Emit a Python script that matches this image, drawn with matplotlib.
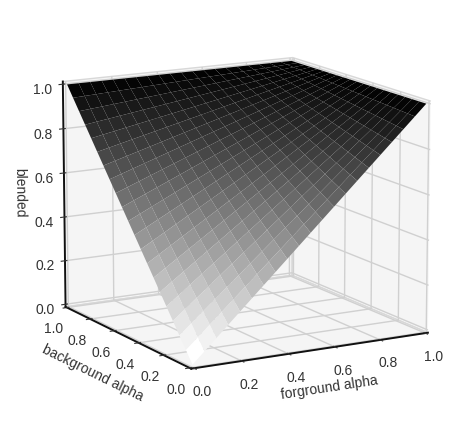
import matplotlib
matplotlib.use('Agg')
import matplotlib.pyplot as plt
import numpy as np

foreground = [0.0, 0.05, 0.1, 0.15, 0.2, 0.25, 0.3, 0.35, 0.4, 0.45, 0.5,
              0.55, 0.6, 0.65, 0.7, 0.75, 0.8, 0.85, 0.9, 0.95, 1.0]
background = [0.0, 0.05, 0.1, 0.15, 0.2, 0.25, 0.3, 0.35, 0.4, 0.45, 0.5,
              0.55, 0.6, 0.65, 0.7, 0.75, 0.8, 0.85, 0.9, 0.95, 1.0]
# one row per background alpha
blended = [
    [0, .05, .1, .15, .2, .25, .3, .35, .4, .45, .5, .55, .6, .65, .7, .75, .8, .85, .9, .95, 1],
    [.05, .0975, .145, .1925, .24, .2875, .335, .3825, .43, .4775, .525, .5725, .62, .6675, .715, .7625, .81, .8575, .905, .9525, 1],
    [.1, .145, .19, .235, .28, .325, .37, .415, .46, .505, .55, .595, .64, .685, .73, .775, .82, .865, .91, .955, 1],
    [.15, .1925, .235, .2775, .32, .3625, .405, .4475, .49, .5325, .575, .6175, .66, .7025, .745, .7875, .83, .8725, .915, .9575, 1],
    [.2, .24, .28, .32, .36, .4, .44, .48, .52, .56, .6, .64, .68, .72, .76, .8, .84, .88, .92, .96, 1],
    [.25, .2875, .325, .3625, .4, .4375, .475, .5125, .55, .5875, .625, .6625, .7, .7375, .775, .8125, .85, .8875, .925, .9625, 1],
    [.3, .335, .37, .405, .44, .475, .51, .545, .58, .615, .65, .685, .72, .755, .79, .825, .86, .895, .93, .965, 1],
    [.35, .3825, .415, .4475, .48, .5125, .545, .5775, .61, .6425, .675, .7075, .74, .7725, .805, .8375, .87, .9025, .935, .9675, 1],
    [.4, .43, .46, .49, .52, .55, .58, .61, .64, .67, .7, .73, .76, .79, .82, .85, .88, .91, .94, .97, 1],
    [.45, .4775, .505, .5325, .56, .5875, .615, .6425, .67, .6975, .725, .7525, .78, .8075, .835, .8625, .89, .9175, .945, .9725, 1],
    [.5, .525, .55, .575, .6, .625, .65, .675, .7, .725, .75, .775, .8, .825, .85, .875, .9, .925, .95, .975, 1],
    [.55, .5725, .595, .6175, .64, .6625, .685, .7075, .73, .7525, .775, .7975, .82, .8425, .865, .8875, .91, .9325, .955, .9775, 1],
    [.6, .62, .64, .66, .68, .7, .72, .74, .76, .78, .8, .82, .84, .86, .88, .9, .92, .94, .96, .98, 1],
    [.65, .6675, .685, .7025, .72, .7375, .755, .7725, .79, .8075, .825, .8425, .86, .8775, .895, .9125, .93, .9475, .965, .9825, 1],
    [.7, .715, .73, .745, .76, .775, .79, .805, .82, .835, .85, .865, .88, .895, .91, .925, .94, .955, .97, .985, 1],
    [.75, .7625, .775, .7875, .8, .8125, .825, .8375, .85, .8625, .875, .8875, .9, .9125, .925, .9375, .95, .9625, .975, .9875, 1],
    [.8, .81, .82, .83, .84, .85, .86, .87, .88, .89, .9, .91, .92, .93, .94, .95, .96, .97, .98, .99, 1],
    [.85, .8575, .865, .8725, .88, .8875, .895, .9025, .91, .9175, .925, .9325, .94, .9475, .955, .9625, .97, .9775, .985, .9925, 1],
    [.9, .905, .91, .915, .92, .925, .93, .935, .94, .945, .95, .955, .96, .965, .97, .975, .98, .985, .99, .995, 1],
    [.95, .9525, .955, .9575, .96, .9625, .965, .9675, .97, .9725, .975, .9775, .98, .9825, .985, .9875, .99, .9925, .995, .9975, 1],
    [1, 1, 1, 1, 1, 1, 1, 1, 1, 1, 1, 1, 1, 1, 1, 1, 1, 1, 1, 1, 1],
]
tick_values = [0.0, 0.2, 0.4, 0.6, 0.8, 1.0]

plt.rcParams['font.family'] = ['Liberation Sans', 'DejaVu Sans']
TEXT = '#333333'

fig = plt.figure(figsize=(4.74, 4.24), dpi=100)
ax = fig.add_axes([0.003, 0.0, 1.0, 1.0], projection='3d')

X, Y = np.meshgrid(foreground, background)
Z = np.array(blended)
ax.plot_surface(X, Y, Z, cmap='gray_r', rstride=1, cstride=1, linewidth=0, antialiased=True)

ax.view_init(elev=13, azim=-119.5)
ax.set_proj_type('persp', focal_length=1.5)
ax.set_box_aspect((4, 4, 3.5), zoom=1.02)
ax.set_xlim(-0.012, 1.012)
ax.set_ylim(-0.012, 1.012)
ax.set_zlim(-0.012, 1.012)
ax.set_xticks(tick_values)
ax.set_yticks(tick_values)
ax.set_zticks(tick_values)
ax.set_xlabel('forground alpha', color=TEXT, fontsize=10, labelpad=-1)
ax.set_ylabel('background alpha', color=TEXT, fontsize=10, labelpad=1)
ax.set_zlabel('blended', color=TEXT, fontsize=10, labelpad=-1)
ax.tick_params(labelsize=10, colors=TEXT, pad=1)

for axis in (ax.xaxis, ax.yaxis, ax.zaxis):
    axis.set_pane_color((0.96, 0.96, 0.96, 1.0))
    axis.pane.set_edgecolor('#d8d8d8')
    axis.line.set_color('#111111')
    axis.line.set_linewidth(1.4)
    axis._axinfo['grid']['color'] = '#d0d0d0'
    axis._axinfo['grid']['linewidth'] = 1.0

fig.savefig('out.png', dpi=100)
